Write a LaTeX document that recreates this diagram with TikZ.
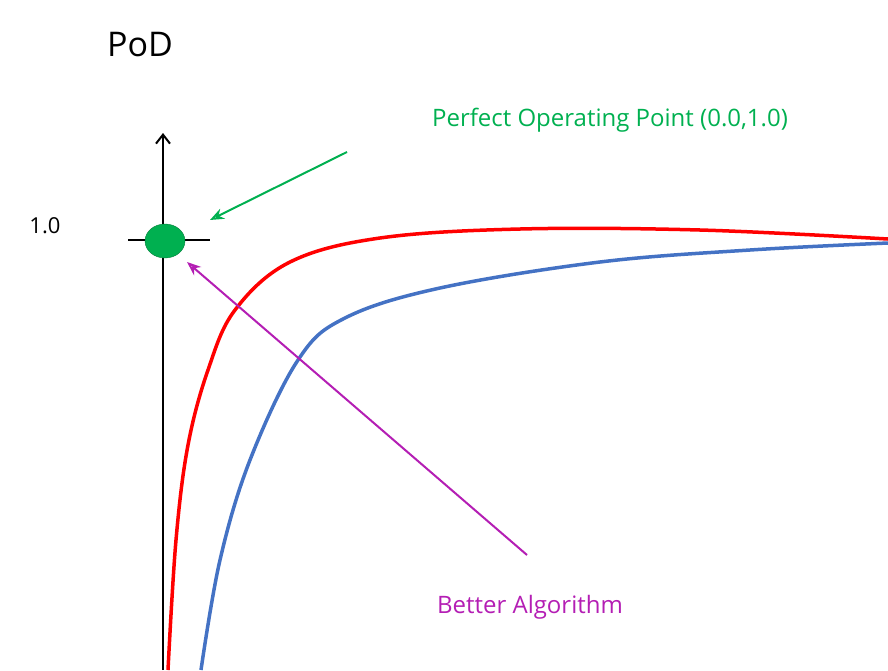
\documentclass[tikz,border=0pt]{standalone}
\usepackage{fontspec}
\setmainfont{Open Sans}
\usetikzlibrary{arrows.meta,shapes.geometric}
\begin{document}
\begin{tikzpicture}[x=1pt,y=-1pt,
  lbl/.style={inner sep=0pt,anchor=center},
  ax/.style={line width=2pt,black},
  ptr/.style={line width=2pt,-{Stealth[open,length=14pt,width=11pt]}}]
\useasboundingbox (0,0) rectangle (888,670);
\definecolor{ggreen}{RGB}{0,176,80}
\definecolor{mag}{RGB}{180,30,180}
\definecolor{cblue}{RGB}{68,114,196}
\coordinate (ybot) at (163,670);
\coordinate (ytop) at (163,133);
\draw[ax,-{Straight Barb[length=9pt,width=14pt]}] (ybot) -- (ytop);
\coordinate (tl) at (128,240); \coordinate (tr) at (210,240);
\draw[ax] (tl) -- (tr);
\draw[red,line width=3.5pt] plot[smooth,tension=0.6] coordinates {(168,670) (176,540) (188,445) (208,370) (235,310) (290,262) (380,238) (520,229) (700,230) (888,239)};
\draw[cblue,line width=3.5pt] plot[smooth,tension=0.6] coordinates {(201,670) (220,560) (250,460) (298,360) (345,318) (440,288) (600,262) (750,250) (888,243)};
\node[ellipse,draw=ggreen!70!black,fill=ggreen,minimum width=40pt,minimum height=34pt,inner sep=0pt] (pt) at (165,241) {};
\node[lbl,font=\fontsize{22}{26}\selectfont] (yl) at (45,226) {1.0};
\node[lbl,font=\fontsize{34}{40}\selectfont] (pod) at (140,45) {PoD};
\node[lbl,text=ggreen,font=\fontsize{24}{28}\selectfont] (perf) at (610,120) {Perfect Operating Point (0.0,1.0)};
\node[lbl,text=mag,font=\fontsize{24}{28}\selectfont] (better) at (530,607) {Better Algorithm};
\coordinate (gs) at (347,152); \coordinate (ge) at (210,220);
\draw[ptr,ggreen] (gs) -- (ge);
\coordinate (ms) at (527,555); \coordinate (me) at (187,262);
\draw[ptr,mag] (ms) -- (me);
\end{tikzpicture}
\end{document}
